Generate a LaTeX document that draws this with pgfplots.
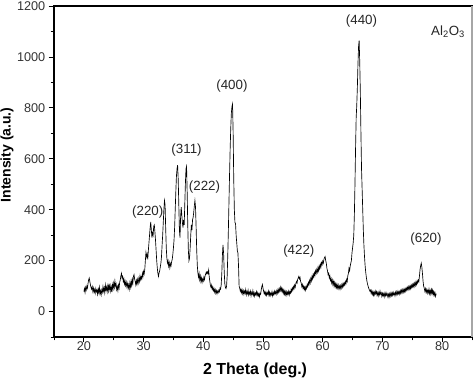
\documentclass[border=0pt]{standalone}
\usepackage{fontspec}
\setmainfont{Liberation Sans}
\usepackage{pgfplots}
\pgfplotsset{compat=1.18}
\begin{document}
\begin{tikzpicture}
\begin{axis}[
  width=313.5pt, height=248.25pt, scale only axis,
  xmin=15, xmax=85, ymin=-100, ymax=1200,
  xtick={20,30,...,80}, ytick={0,200,...,1200},
  minor xtick={15,25,...,85}, minor ytick={-100,100,...,1100},
  tick align=outside, xtick pos=left, ytick pos=left,
  major tick length=4pt, minor tick length=2.5pt,
  tick style={black, line width=0.6pt},
  axis line style={black, line width=0.9pt},
  tick label style={font=\fontsize{9.5}{11}\selectfont, text=black!80},
  xticklabel style={yshift=4pt},
  yticklabel style={xshift=1pt},
  /pgf/number format/assume math mode=true,
  /pgf/number format/1000 sep={},
  xlabel={\textbf{2 Theta (deg.)}},
  ylabel={\textbf{Intensity (a.u.)}},
  xlabel style={font=\fontsize{12}{14}\selectfont, at={(axis description cs:0.481,-0.0997)}, anchor=center},
  ylabel style={font=\fontsize{10.5}{12}\selectfont, at={(axis description cs:-0.1124,0.55)}, anchor=center},
  clip=false,
]
\addplot[black, line width=0.5pt] coordinates {
(20.0,78)(20.1,90)(20.2,75)(20.3,95)(20.4,85)(20.5,100)(20.6,92)(20.7,110)(20.8,125)(20.9,132)(21.0,118)
(21.1,105)(21.2,95)(21.3,88)(21.4,98)(21.5,80)(21.6,92)(21.7,76)(21.8,86)(21.9,72)(22.0,90)
(22.1,78)(22.2,84)(22.3,68)(22.4,88)(22.5,75)(22.6,95)(22.7,70)(22.8,82)(22.9,66)(23.0,85)
(23.1,76)(23.2,98)(23.3,80)(23.4,92)(23.5,74)(23.6,104)(23.7,85)(23.8,96)(23.9,78)(24.0,100)
(24.1,82)(24.2,110)(24.3,88)(24.4,102)(24.5,80)(24.6,96)(24.7,76)(24.8,105)(24.9,90)(25.0,112)
(25.1,95)(25.2,120)(25.3,100)(25.4,108)(25.5,86)(25.6,98)(25.7,82)(25.8,104)(25.9,92)(26.0,115)
(26.1,125)(26.2,140)(26.3,150)(26.4,132)(26.5,138)(26.6,118)(26.7,128)(26.8,108)(26.9,120)(27.0,102)
(27.1,115)(27.2,98)(27.3,110)(27.4,92)(27.5,105)(27.6,88)(27.7,112)(27.8,96)(27.9,118)(28.0,102)
(28.1,125)(28.2,110)(28.3,138)(28.4,145)(28.5,128)(28.6,118)(28.7,104)(28.8,122)(28.9,108)(29.0,126)
(29.1,112)(29.2,130)(29.3,118)(29.4,140)(29.5,125)(29.6,136)(29.7,128)(29.8,150)(29.9,138)(30.0,158)
(30.1,148)(30.2,165)(30.3,200)(30.4,232)(30.5,215)(30.6,225)(30.7,205)(30.8,240)(30.9,270)(31.0,300)
(31.1,330)(31.2,352)(31.3,320)(31.4,290)(31.5,310)(31.6,300)(31.7,335)(31.8,340)(31.9,312)(32.0,280)
(32.1,240)(32.2,200)(32.3,170)(32.4,150)(32.5,138)(32.6,152)(32.7,160)(32.8,175)(32.9,190)(33.0,215)
(33.1,260)(33.2,300)(33.3,350)(33.4,400)(33.5,436)(33.6,420)(33.7,330)(33.8,250)(33.9,210)(34.0,190)
(34.1,200)(34.2,178)(34.3,192)(34.4,172)(34.5,188)(34.6,180)(34.7,196)(34.8,205)(34.9,225)(35.0,250)
(35.1,280)(35.2,330)(35.3,400)(35.4,470)(35.5,530)(35.6,560)(35.7,575)(35.8,520)(35.9,420)(36.0,320)
(36.1,290)(36.2,370)(36.3,410)(36.4,380)(36.5,350)(36.6,330)(36.7,360)(36.8,340)(36.9,420)(37.0,500)
(37.1,560)(37.2,570)(37.3,470)(37.4,340)(37.5,240)(37.6,200)(37.7,210)(37.8,250)(37.9,300)(38.0,340)
(38.1,320)(38.2,360)(38.3,370)(38.4,390)(38.5,415)(38.6,436)(38.7,410)(38.8,330)(38.9,240)(39.0,180)
(39.1,150)(39.2,135)(39.3,150)(39.4,125)(39.5,140)(39.6,118)(39.7,132)(39.8,115)(39.9,128)(40.0,120)
(40.1,135)(40.2,125)(40.3,140)(40.4,148)(40.5,155)(40.6,148)(40.7,156)(40.8,150)(40.9,163)(41.0,135)
(41.1,118)(41.2,102)(41.3,95)(41.4,104)(41.5,88)(41.6,96)(41.7,82)(41.8,90)(41.9,76)(42.0,86)
(42.1,72)(42.2,82)(42.3,70)(42.4,80)(42.5,74)(42.6,84)(42.7,78)(42.8,92)(42.9,88)(43.0,105)
(43.1,150)(43.2,220)(43.3,262)(43.4,230)(43.5,160)(43.6,110)(43.7,95)(43.8,90)(43.9,100)(44.0,140)
(44.1,220)(44.2,320)(44.3,430)(44.4,540)(44.5,640)(44.6,720)(44.7,780)(44.8,805)(44.9,815)(45.0,700)
(45.1,520)(45.2,400)(45.3,350)(45.4,345)(45.5,300)(45.6,270)(45.7,240)(45.8,230)(45.9,180)(46.0,100)
(46.1,92)(46.2,80)(46.3,88)(46.4,74)(46.5,85)(46.6,70)(46.7,82)(46.8,68)(46.9,80)(47.0,72)
(47.1,86)(47.2,66)(47.3,78)(47.4,70)(47.5,84)(47.6,65)(47.7,76)(47.8,68)(47.9,80)(48.0,62)
(48.1,75)(48.2,68)(48.3,82)(48.4,64)(48.5,74)(48.6,60)(48.7,72)(48.8,66)(48.9,78)(49.0,64)
(49.1,74)(49.2,62)(49.3,70)(49.4,58)(49.5,72)(49.6,68)(49.7,85)(49.8,98)(49.9,106)(50.0,92)
(50.1,80)(50.2,70)(50.3,78)(50.4,66)(50.5,76)(50.6,64)(50.7,74)(50.8,68)(50.9,80)(51.0,64)
(51.1,76)(51.2,62)(51.3,72)(51.4,66)(51.5,78)(51.6,62)(51.7,74)(51.8,66)(51.9,80)(52.0,70)
(52.1,78)(52.2,68)(52.3,82)(52.4,72)(52.5,86)(52.6,76)(52.7,90)(52.8,80)(52.9,95)(53.0,82)
(53.1,92)(53.2,78)(53.3,88)(53.4,72)(53.5,84)(53.6,68)(53.7,80)(53.8,66)(53.9,78)(54.0,64)
(54.1,76)(54.2,68)(54.3,80)(54.4,66)(54.5,78)(54.6,72)(54.7,86)(54.8,78)(54.9,92)(55.0,84)
(55.1,98)(55.2,90)(55.3,104)(55.4,96)(55.5,110)(55.6,118)(55.7,112)(55.8,126)(55.9,132)(56.0,138)
(56.1,128)(56.2,134)(56.3,118)(56.4,112)(56.5,98)(56.6,106)(56.7,92)(56.8,100)(56.9,86)(57.0,96)
(57.1,84)(57.2,98)(57.3,90)(57.4,106)(57.5,98)(57.6,114)(57.7,106)(57.8,122)(57.9,112)(58.0,130)
(58.1,120)(58.2,138)(58.3,128)(58.4,146)(58.5,136)(58.6,152)(58.7,142)(58.8,160)(58.9,150)(59.0,165)
(59.1,154)(59.2,172)(59.3,160)(59.4,178)(59.5,168)(59.6,185)(59.7,175)(59.8,192)(59.9,184)(60.0,198)
(60.1,190)(60.2,205)(60.3,212)(60.4,216)(60.5,200)(60.6,190)(60.7,170)(60.8,160)(60.9,145)(61.0,150)
(61.1,132)(61.2,140)(61.3,122)(61.4,130)(61.5,112)(61.6,124)(61.7,106)(61.8,118)(61.9,100)(62.0,114)
(62.1,98)(62.2,110)(62.3,94)(62.4,106)(62.5,92)(62.6,104)(62.7,90)(62.8,100)(62.9,88)(63.0,102)
(63.1,92)(63.2,106)(63.3,96)(63.4,110)(63.5,100)(63.6,112)(63.7,104)(63.8,118)(63.9,110)(64.0,126)
(64.1,118)(64.2,140)(64.3,150)(64.4,170)(64.5,160)(64.6,178)(64.7,190)(64.8,200)(64.9,230)(65.0,250)
(65.1,270)(65.2,300)(65.3,380)(65.4,500)(65.5,640)(65.6,760)(65.7,810)(65.8,880)(65.9,970)(66.0,1040)
(66.1,1065)(66.2,980)(66.3,860)(66.4,700)(66.5,560)(66.6,480)(66.7,400)(66.8,320)(66.9,260)(67.0,215)
(67.1,180)(67.2,155)(67.3,135)(67.4,120)(67.5,108)(67.6,100)(67.7,92)(67.8,86)(67.9,80)(68.0,84)
(68.1,72)(68.2,82)(68.3,68)(68.4,78)(68.5,64)(68.6,76)(68.7,66)(68.8,80)(68.9,70)(69.0,78)
(69.1,64)(69.2,74)(69.3,62)(69.4,76)(69.5,66)(69.6,80)(69.7,68)(69.8,74)(69.9,60)(70.0,72)
(70.1,62)(70.2,70)(70.3,58)(70.4,72)(70.5,62)(70.6,74)(70.7,64)(70.8,70)(70.9,58)(71.0,68)
(71.1,56)(71.2,70)(71.3,60)(71.4,72)(71.5,62)(71.6,74)(71.7,64)(71.8,76)(71.9,66)(72.0,72)
(72.1,62)(72.2,76)(72.3,66)(72.4,78)(72.5,68)(72.6,80)(72.7,70)(72.8,78)(72.9,68)(73.0,82)
(73.1,72)(73.2,84)(73.3,74)(73.4,86)(73.5,76)(73.6,88)(73.7,78)(73.8,90)(73.9,80)(74.0,92)
(74.1,84)(74.2,95)(74.3,86)(74.4,98)(74.5,88)(74.6,100)(74.7,90)(74.8,104)(74.9,94)(75.0,106)
(75.1,96)(75.2,108)(75.3,98)(75.4,112)(75.5,102)(75.6,116)(75.7,106)(75.8,120)(75.9,112)(76.0,124)
(76.1,118)(76.2,140)(76.3,165)(76.4,180)(76.5,190)(76.6,175)(76.7,150)(76.8,120)(76.9,100)(77.0,92)
(77.1,80)(77.2,90)(77.3,76)(77.4,86)(77.5,72)(77.6,84)(77.7,74)(77.8,88)(77.9,70)(78.0,82)
(78.1,68)(78.2,86)(78.3,72)(78.4,84)(78.5,66)(78.6,78)(78.7,64)(78.8,74)(78.9,60)(79.0,70)
};
\draw[gray!70, line width=0.9pt] (rel axis cs:1,0) -- (rel axis cs:1,1);
\begin{scope}[every node/.style={font=\fontsize{10}{12}\selectfont, text=black!85, inner sep=0pt}]
\node at (axis cs:30.7,389) {(220)};
\node at (axis cs:37.2,635) {(311)};
\node at (axis cs:40.2,487) {(222)};
\node at (axis cs:44.8,885) {(400)};
\node at (axis cs:66.5,1140) {(440)};
\node at (axis cs:81,1100) {Al\textsubscript{2}O\textsubscript{3}};
\node at (axis cs:56,236) {(422)};
\node at (axis cs:77.3,283) {(620)};
\end{scope}
\end{axis}
\pgfresetboundingbox
\path (current axis.south west) ++(-40.5pt,-33.75pt) rectangle ([shift={(1.5pt,4.5pt)}]current axis.north east);
\end{tikzpicture}
\end{document}
